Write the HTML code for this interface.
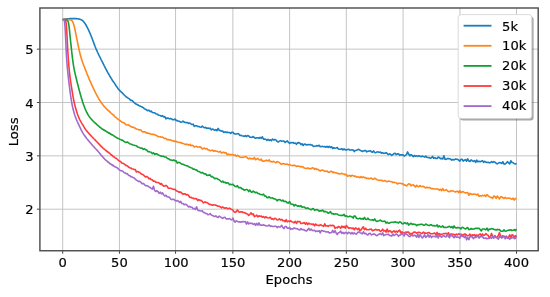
<!DOCTYPE html>
<html><head><meta charset="utf-8"><title>Loss</title>
<style>html,body{margin:0;padding:0;background:#fff}svg{display:block}</style></head>
<body>
<svg width="550" height="297" viewBox="0 0 550 297" font-family="'DejaVu Sans', 'Liberation Sans', sans-serif" font-size="13.1" fill="#000">
<rect width="550" height="297" fill="#fff"/>
<path d="M62.70 8.00V250.75M119.43 8.00V250.75M175.55 8.00V250.75M232.88 8.00V250.75M289.60 8.00V250.75M346.32 8.00V250.75M403.05 8.00V250.75M459.98 8.00V250.75M516.50 8.00V250.75M39.90 209.20H538.20M39.90 155.85H538.20M39.90 102.50H538.20M39.90 49.15H538.20" stroke="#bdbdbd" stroke-width="0.9" fill="none"/>
<clipPath id="c"><rect x="39.90" y="8.00" width="498.30" height="242.75"/></clipPath>
<g clip-path="url(#c)" fill="none" stroke-width="1.6" stroke-linejoin="round" stroke-linecap="butt">
<path d="M62.70 19.79 L62.98 19.72 L63.27 19.65 L63.55 19.57 L63.83 19.49 L64.12 19.42 L64.40 19.35 L64.69 19.28 L64.97 19.22 L65.25 19.16 L65.54 19.10 L65.82 19.05 L66.10 19.00 L66.39 18.95 L66.67 18.91 L66.95 18.88 L67.24 18.85 L67.52 18.82 L67.81 18.80 L68.09 18.77 L68.37 18.75 L68.66 18.72 L68.94 18.70 L69.22 18.68 L69.51 18.66 L69.79 18.65 L70.07 18.63 L70.36 18.62 L70.64 18.61 L70.93 18.60 L71.21 18.59 L71.49 18.59 L71.78 18.58 L72.06 18.58 L72.34 18.58 L72.63 18.58 L72.91 18.59 L73.19 18.59 L73.48 18.59 L73.76 18.59 L74.05 18.60 L74.33 18.60 L74.61 18.60 L74.90 18.61 L75.18 18.61 L75.46 18.62 L75.75 18.63 L76.03 18.64 L76.31 18.65 L76.60 18.67 L76.88 18.70 L77.16 18.72 L77.45 18.76 L77.73 18.80 L78.02 18.84 L78.30 18.89 L78.58 18.95 L78.87 19.01 L79.15 19.07 L79.43 19.14 L79.72 19.22 L80.00 19.31 L80.28 19.40 L80.57 19.51 L80.85 19.62 L81.14 19.75 L81.42 19.90 L81.70 20.06 L81.99 20.24 L82.27 20.43 L82.55 20.65 L82.84 20.90 L83.12 21.16 L83.40 21.45 L83.69 21.76 L83.97 22.09 L84.26 22.45 L84.54 22.83 L84.82 23.22 L85.11 23.64 L85.39 24.08 L85.67 24.54 L85.96 25.01 L86.24 25.50 L86.52 26.01 L86.81 26.54 L87.09 27.07 L87.38 27.63 L87.66 28.19 L87.94 28.77 L88.23 29.35 L88.51 29.95 L88.79 30.56 L89.08 31.18 L89.36 31.81 L89.64 32.45 L89.93 33.10 L90.21 33.77 L90.50 34.45 L90.78 35.14 L91.06 35.84 L91.35 36.56 L91.63 37.29 L91.91 38.02 L92.20 38.76 L92.48 39.52 L92.76 40.29 L93.05 41.06 L93.33 41.81 L93.62 42.57 L93.90 43.35 L94.18 44.10 L94.47 44.86 L94.75 45.57 L95.03 46.34 L95.32 47.02 L95.60 47.70 L95.88 48.42 L96.17 49.14 L96.45 49.72 L96.74 50.45 L97.02 51.04 L97.30 51.72 L97.59 52.38 L97.87 52.89 L98.15 53.49 L98.44 54.09 L98.72 54.66 L99.00 55.29 L99.29 55.87 L99.57 56.42 L99.85 56.86 L100.14 57.50 L100.42 58.16 L100.71 58.66 L100.99 59.31 L101.27 59.88 L101.56 60.36 L101.84 61.03 L102.12 61.70 L102.41 62.21 L102.69 62.70 L102.97 63.27 L103.26 63.74 L103.54 64.48 L103.83 64.92 L104.11 65.50 L104.39 66.12 L104.68 66.58 L104.96 67.16 L105.24 67.84 L105.53 68.19 L105.81 68.97 L106.09 69.37 L106.38 69.90 L106.66 70.38 L106.95 71.04 L107.23 71.48 L107.51 72.00 L107.80 72.38 L108.08 73.10 L108.36 73.50 L108.65 74.04 L108.93 74.66 L109.21 74.65 L109.50 75.49 L109.78 76.16 L110.07 76.25 L110.35 77.06 L110.63 77.33 L110.92 77.73 L111.20 78.41 L111.48 78.84 L111.77 79.32 L112.05 79.71 L112.33 80.39 L112.62 80.91 L112.90 81.05 L113.19 81.30 L113.47 81.80 L113.75 82.05 L114.89 83.89 L116.02 85.72 L117.16 87.18 L118.29 89.11 L119.43 90.15 L120.56 91.44 L121.69 92.36 L122.83 93.39 L123.96 94.74 L125.10 95.77 L126.23 97.00 L127.37 97.57 L128.50 98.38 L129.64 99.20 L130.77 100.41 L131.90 100.40 L133.04 101.43 L134.17 102.62 L135.31 103.53 L136.44 104.20 L137.58 104.76 L138.71 105.52 L139.85 106.02 L140.98 106.57 L142.12 106.98 L143.25 107.68 L144.38 108.79 L145.52 109.17 L146.65 110.06 L147.79 110.69 L148.92 110.12 L150.06 111.64 L151.19 111.05 L152.33 112.53 L153.46 112.72 L154.59 112.80 L155.73 113.71 L156.86 113.99 L158.00 114.71 L159.13 115.27 L160.27 115.58 L161.40 116.24 L162.54 115.67 L163.67 116.90 L164.81 116.48 L165.94 118.80 L167.07 118.01 L168.21 118.12 L169.34 118.84 L170.48 118.54 L171.61 119.05 L172.75 119.76 L173.88 119.73 L175.02 119.03 L176.15 120.38 L177.28 120.64 L178.42 121.26 L179.55 121.29 L180.69 122.23 L181.82 122.03 L182.96 121.11 L184.09 122.05 L185.23 122.54 L186.36 122.63 L187.50 122.57 L188.63 123.47 L189.76 123.09 L190.90 123.85 L192.03 124.57 L193.17 124.15 L194.30 126.35 L195.44 125.81 L196.57 125.71 L197.71 126.55 L198.84 126.48 L199.97 126.99 L201.11 127.27 L202.24 126.01 L203.38 127.20 L204.51 127.78 L205.65 127.38 L206.78 128.37 L207.92 128.07 L209.05 128.56 L210.19 128.18 L211.32 129.86 L212.45 129.04 L213.59 129.57 L214.72 130.40 L215.86 129.55 L216.99 130.70 L218.13 128.38 L219.26 130.47 L220.40 130.60 L221.53 131.12 L222.66 130.95 L223.80 132.52 L224.93 131.80 L226.07 132.38 L227.20 132.16 L228.34 132.55 L229.47 132.46 L230.61 133.40 L231.74 132.31 L232.88 132.30 L234.01 133.78 L235.14 133.91 L236.28 133.98 L237.41 133.72 L238.55 133.62 L239.68 135.38 L240.82 135.30 L241.95 135.74 L243.09 135.97 L244.22 136.45 L245.35 135.65 L246.49 136.61 L247.62 135.47 L248.76 135.97 L249.89 137.14 L251.03 137.33 L252.16 137.31 L253.30 136.48 L254.43 137.81 L255.56 138.32 L256.70 137.76 L257.83 137.73 L258.97 138.43 L260.10 137.44 L261.24 138.31 L262.37 136.77 L263.51 139.22 L264.64 138.96 L265.78 139.19 L266.91 140.44 L268.04 139.28 L269.18 140.52 L270.31 139.76 L271.45 140.67 L272.58 139.01 L273.72 140.04 L274.85 139.60 L275.99 140.04 L277.12 141.36 L278.25 142.02 L279.39 141.14 L280.52 140.64 L281.66 141.21 L282.79 141.00 L283.93 141.06 L285.06 142.50 L286.20 141.70 L287.33 140.95 L288.47 142.45 L289.60 143.37 L290.73 142.56 L291.87 142.83 L293.00 142.50 L294.14 143.35 L295.27 142.97 L296.41 144.36 L297.54 142.85 L298.68 142.61 L299.81 142.91 L300.94 144.58 L302.08 143.73 L303.21 145.46 L304.35 144.04 L305.48 144.38 L306.62 145.04 L307.75 144.45 L308.89 144.71 L310.02 144.42 L311.16 145.01 L312.29 145.10 L313.42 146.45 L314.56 146.16 L315.69 145.93 L316.83 145.65 L317.96 145.96 L319.10 145.27 L320.23 146.73 L321.37 146.52 L322.50 146.39 L323.63 146.80 L324.77 146.53 L325.90 147.26 L327.04 146.29 L328.17 147.40 L329.31 146.29 L330.44 147.51 L331.58 146.78 L332.71 148.54 L333.85 147.59 L334.98 148.25 L336.11 148.01 L337.25 147.59 L338.38 149.04 L339.52 149.26 L340.65 149.20 L341.79 148.61 L342.92 149.95 L344.06 148.94 L345.19 149.85 L346.32 149.89 L347.46 149.56 L348.59 149.25 L349.73 149.95 L350.86 149.98 L352.00 149.84 L353.13 150.09 L354.27 151.56 L355.40 150.42 L356.54 150.23 L357.67 149.76 L358.80 149.33 L359.94 150.25 L361.07 150.71 L362.21 151.44 L363.34 150.94 L364.48 150.65 L365.61 150.49 L366.75 151.87 L367.88 151.33 L369.01 151.11 L370.15 150.61 L371.28 151.68 L372.42 152.27 L373.55 150.88 L374.69 152.41 L375.82 152.70 L376.96 151.94 L378.09 151.92 L379.23 152.24 L380.36 152.08 L381.49 153.18 L382.63 152.80 L383.76 153.37 L384.90 153.23 L386.03 152.63 L387.17 153.50 L388.30 154.72 L389.44 153.86 L390.57 154.25 L391.70 155.48 L392.84 154.52 L393.97 153.56 L395.11 153.23 L396.24 154.66 L397.38 153.86 L398.51 153.85 L399.65 155.38 L400.78 154.80 L401.92 154.91 L403.05 154.88 L404.18 156.07 L405.32 155.40 L406.45 154.64 L407.59 151.94 L408.72 154.36 L409.86 155.80 L410.99 154.53 L412.13 155.38 L413.26 156.73 L414.39 155.51 L415.53 156.30 L416.66 155.86 L417.80 156.35 L418.93 155.63 L420.07 156.32 L421.20 156.76 L422.34 156.07 L423.47 156.61 L424.61 157.13 L425.74 156.17 L426.87 157.33 L428.01 157.57 L429.14 157.61 L430.28 158.30 L431.41 157.82 L432.55 156.39 L433.68 158.24 L434.82 157.76 L435.95 158.57 L437.09 158.36 L438.22 157.10 L439.35 157.59 L440.49 158.65 L441.62 158.36 L442.76 158.99 L443.89 155.86 L445.03 159.25 L446.16 159.33 L447.30 158.65 L448.43 158.57 L449.56 158.74 L450.70 159.26 L451.83 160.12 L452.97 159.38 L454.10 160.04 L455.24 158.96 L456.37 159.27 L457.51 159.24 L458.64 160.05 L459.78 161.10 L460.91 159.38 L462.04 159.29 L463.18 161.16 L464.31 160.19 L465.45 159.59 L466.58 161.17 L467.72 158.84 L468.85 161.04 L469.99 161.44 L471.12 159.92 L472.25 160.72 L473.39 161.43 L474.52 160.50 L475.66 162.47 L476.79 160.05 L477.93 161.88 L479.06 161.23 L480.20 161.77 L481.33 161.30 L482.47 160.66 L483.60 162.30 L484.73 161.30 L485.87 162.11 L487.00 162.45 L488.14 162.21 L489.27 162.81 L490.41 162.75 L491.54 161.64 L492.68 162.46 L493.81 161.65 L494.94 162.20 L496.08 163.26 L497.21 163.92 L498.35 163.16 L499.48 162.58 L500.62 162.81 L501.75 163.45 L502.89 161.76 L504.02 164.19 L505.16 163.92 L506.29 163.02 L507.42 161.65 L508.56 162.93 L509.69 163.95 L510.83 160.77 L511.96 162.55 L513.10 162.75 L514.23 163.72 L515.37 164.03 L516.50 163.44" stroke="#187ec2"/>
<path d="M62.70 19.54 L62.98 19.54 L63.27 19.54 L63.55 19.54 L63.83 19.54 L64.12 19.54 L64.40 19.54 L64.69 19.54 L64.97 19.54 L65.25 19.54 L65.54 19.54 L65.82 19.54 L66.10 19.54 L66.39 19.54 L66.67 19.54 L66.95 19.54 L67.24 19.54 L67.52 19.54 L67.81 19.54 L68.09 19.54 L68.37 19.55 L68.66 19.57 L68.94 19.60 L69.22 19.63 L69.51 19.68 L69.79 19.73 L70.07 19.79 L70.36 19.86 L70.64 19.94 L70.93 20.03 L71.21 20.14 L71.49 20.29 L71.78 20.49 L72.06 20.78 L72.34 21.16 L72.63 21.65 L72.91 22.26 L73.19 22.97 L73.48 23.80 L73.76 24.71 L74.05 25.72 L74.33 26.82 L74.61 28.00 L74.90 29.27 L75.18 30.60 L75.46 31.99 L75.75 33.42 L76.03 34.86 L76.31 36.31 L76.60 37.74 L76.88 39.15 L77.16 40.54 L77.45 41.92 L77.73 43.29 L78.02 44.65 L78.30 46.01 L78.58 47.35 L78.87 48.67 L79.15 49.96 L79.43 51.22 L79.72 52.43 L80.00 53.60 L80.28 54.72 L80.57 55.80 L80.85 56.83 L81.14 57.82 L81.42 58.78 L81.70 59.69 L81.99 60.57 L82.27 61.41 L82.55 62.23 L82.84 63.02 L83.12 63.79 L83.40 64.54 L83.69 65.27 L83.97 66.00 L84.26 66.73 L84.54 67.45 L84.82 68.17 L85.11 68.89 L85.39 69.61 L85.67 70.34 L85.96 71.06 L86.24 71.78 L86.52 72.51 L86.81 73.22 L87.09 73.94 L87.38 74.65 L87.66 75.35 L87.94 76.05 L88.23 76.74 L88.51 77.42 L88.79 78.09 L89.08 78.75 L89.36 79.41 L89.64 80.06 L89.93 80.71 L90.21 81.35 L90.50 81.98 L90.78 82.61 L91.06 83.24 L91.35 83.86 L91.63 84.48 L91.91 85.10 L92.20 85.72 L92.48 86.34 L92.76 86.94 L93.05 87.52 L93.33 88.16 L93.62 88.75 L93.90 89.32 L94.18 89.99 L94.47 90.52 L94.75 91.13 L95.03 91.69 L95.32 92.25 L95.60 92.85 L95.88 93.41 L96.17 93.94 L96.45 94.49 L96.74 95.08 L97.02 95.59 L97.30 96.17 L97.59 96.57 L97.87 97.20 L98.15 97.63 L98.44 98.05 L98.72 98.58 L99.00 99.12 L99.29 99.61 L99.57 100.07 L99.85 100.43 L100.14 100.91 L100.42 101.36 L100.71 101.61 L100.99 102.26 L101.27 102.65 L101.56 103.04 L101.84 103.39 L102.12 103.77 L102.41 104.19 L102.69 104.47 L102.97 104.85 L103.26 105.27 L103.54 105.80 L103.83 105.85 L104.11 106.34 L104.39 106.64 L104.68 106.91 L104.96 107.33 L105.24 107.60 L105.53 107.81 L105.81 108.15 L106.09 108.37 L106.38 108.79 L106.66 109.00 L106.95 109.37 L107.23 109.56 L107.51 109.77 L107.80 110.10 L108.08 110.51 L108.36 110.62 L108.65 110.84 L108.93 110.97 L109.21 111.38 L109.50 111.68 L109.78 112.03 L110.07 111.86 L110.35 112.51 L110.63 112.79 L110.92 112.91 L111.20 113.40 L111.48 113.24 L111.77 113.62 L112.05 113.83 L112.33 114.31 L112.62 114.49 L112.90 114.54 L113.19 114.79 L113.47 114.77 L113.75 115.27 L114.89 116.82 L116.02 117.52 L117.16 118.61 L118.29 119.27 L119.43 120.38 L120.56 121.05 L121.69 121.95 L122.83 122.39 L123.96 122.80 L125.10 123.86 L126.23 124.78 L127.37 125.06 L128.50 124.88 L129.64 125.76 L130.77 126.41 L131.90 127.12 L133.04 127.00 L134.17 127.72 L135.31 128.33 L136.44 128.95 L137.58 129.33 L138.71 129.78 L139.85 129.89 L140.98 130.05 L142.12 131.66 L143.25 131.88 L144.38 131.75 L145.52 132.06 L146.65 133.11 L147.79 133.11 L148.92 133.39 L150.06 133.78 L151.19 134.17 L152.33 134.38 L153.46 134.35 L154.59 134.79 L155.73 135.23 L156.86 135.74 L158.00 136.55 L159.13 136.82 L160.27 136.68 L161.40 137.28 L162.54 137.14 L163.67 137.95 L164.81 138.39 L165.94 138.57 L167.07 139.78 L168.21 139.51 L169.34 140.03 L170.48 139.73 L171.61 140.71 L172.75 140.64 L173.88 141.39 L175.02 141.15 L176.15 141.34 L177.28 142.05 L178.42 142.21 L179.55 142.47 L180.69 142.49 L181.82 143.27 L182.96 143.39 L184.09 143.88 L185.23 144.40 L186.36 144.17 L187.50 144.34 L188.63 145.17 L189.76 144.38 L190.90 145.70 L192.03 145.31 L193.17 145.76 L194.30 146.98 L195.44 146.51 L196.57 146.42 L197.71 147.11 L198.84 147.03 L199.97 146.78 L201.11 147.54 L202.24 148.87 L203.38 148.61 L204.51 148.04 L205.65 148.92 L206.78 148.46 L207.92 149.87 L209.05 150.05 L210.19 150.68 L211.32 150.49 L212.45 149.99 L213.59 151.26 L214.72 150.69 L215.86 151.11 L216.99 151.20 L218.13 151.93 L219.26 152.04 L220.40 151.30 L221.53 153.11 L222.66 152.41 L223.80 152.29 L224.93 153.02 L226.07 152.68 L227.20 154.88 L228.34 154.06 L229.47 154.70 L230.61 154.57 L231.74 154.65 L232.88 154.59 L234.01 155.45 L235.14 154.85 L236.28 156.23 L237.41 155.24 L238.55 156.03 L239.68 156.97 L240.82 157.19 L241.95 157.41 L243.09 157.24 L244.22 156.91 L245.35 156.53 L246.49 156.99 L247.62 158.21 L248.76 158.88 L249.89 158.11 L251.03 158.85 L252.16 158.44 L253.30 158.88 L254.43 157.49 L255.56 159.77 L256.70 158.97 L257.83 158.40 L258.97 159.70 L260.10 160.07 L261.24 159.04 L262.37 161.10 L263.51 161.09 L264.64 161.03 L265.78 160.42 L266.91 160.42 L268.04 161.05 L269.18 159.82 L270.31 161.59 L271.45 161.56 L272.58 161.90 L273.72 161.32 L274.85 162.12 L275.99 162.70 L277.12 161.67 L278.25 162.06 L279.39 162.40 L280.52 163.74 L281.66 164.25 L282.79 163.62 L283.93 163.83 L285.06 164.12 L286.20 164.21 L287.33 163.97 L288.47 165.02 L289.60 164.59 L290.73 165.12 L291.87 165.58 L293.00 165.48 L294.14 165.17 L295.27 165.61 L296.41 166.37 L297.54 166.01 L298.68 166.32 L299.81 166.38 L300.94 167.05 L302.08 166.50 L303.21 167.03 L304.35 168.03 L305.48 168.31 L306.62 168.59 L307.75 167.85 L308.89 168.63 L310.02 168.66 L311.16 168.72 L312.29 167.81 L313.42 167.95 L314.56 169.36 L315.69 168.46 L316.83 169.42 L317.96 169.28 L319.10 170.26 L320.23 170.97 L321.37 170.26 L322.50 170.03 L323.63 170.67 L324.77 171.14 L325.90 171.19 L327.04 170.96 L328.17 172.27 L329.31 172.18 L330.44 171.58 L331.58 171.30 L332.71 172.40 L333.85 172.12 L334.98 172.75 L336.11 172.79 L337.25 173.42 L338.38 173.52 L339.52 174.11 L340.65 173.72 L341.79 173.36 L342.92 174.04 L344.06 173.97 L345.19 174.85 L346.32 174.30 L347.46 176.28 L348.59 175.83 L349.73 175.42 L350.86 176.41 L352.00 175.29 L353.13 175.67 L354.27 176.47 L355.40 176.10 L356.54 177.16 L357.67 177.02 L358.80 176.91 L359.94 177.77 L361.07 176.49 L362.21 177.62 L363.34 176.88 L364.48 177.71 L365.61 177.64 L366.75 178.50 L367.88 178.36 L369.01 178.61 L370.15 178.43 L371.28 177.98 L372.42 179.25 L373.55 179.21 L374.69 178.04 L375.82 179.02 L376.96 179.75 L378.09 180.09 L379.23 180.39 L380.36 180.24 L381.49 180.30 L382.63 181.01 L383.76 180.98 L384.90 180.57 L386.03 181.19 L387.17 181.69 L388.30 181.15 L389.44 181.33 L390.57 181.57 L391.70 181.73 L392.84 182.51 L393.97 182.36 L395.11 182.48 L396.24 182.77 L397.38 184.02 L398.51 183.21 L399.65 183.19 L400.78 183.28 L401.92 183.92 L403.05 183.90 L404.18 185.15 L405.32 185.15 L406.45 185.97 L407.59 184.78 L408.72 183.89 L409.86 184.00 L410.99 185.84 L412.13 184.99 L413.26 184.81 L414.39 185.90 L415.53 187.04 L416.66 185.25 L417.80 186.46 L418.93 186.65 L420.07 185.60 L421.20 186.50 L422.34 186.45 L423.47 186.18 L424.61 187.38 L425.74 188.03 L426.87 187.17 L428.01 187.80 L429.14 187.53 L430.28 187.90 L431.41 188.75 L432.55 188.45 L433.68 188.83 L434.82 188.93 L435.95 188.98 L437.09 188.91 L438.22 189.16 L439.35 190.21 L440.49 189.23 L441.62 190.63 L442.76 188.61 L443.89 190.55 L445.03 190.29 L446.16 189.61 L447.30 190.69 L448.43 191.50 L449.56 191.75 L450.70 190.88 L451.83 190.96 L452.97 190.87 L454.10 191.36 L455.24 191.98 L456.37 191.56 L457.51 191.13 L458.64 192.64 L459.78 190.76 L460.91 192.73 L462.04 191.87 L463.18 191.63 L464.31 192.38 L465.45 192.91 L466.58 192.81 L467.72 192.59 L468.85 195.19 L469.99 193.44 L471.12 194.13 L472.25 194.46 L473.39 194.12 L474.52 194.23 L475.66 194.19 L476.79 195.02 L477.93 194.11 L479.06 196.26 L480.20 195.71 L481.33 196.02 L482.47 195.35 L483.60 195.88 L484.73 195.15 L485.87 196.35 L487.00 194.64 L488.14 195.69 L489.27 196.61 L490.41 197.49 L491.54 197.32 L492.68 198.33 L493.81 196.06 L494.94 196.49 L496.08 198.45 L497.21 196.03 L498.35 197.53 L499.48 198.88 L500.62 196.89 L501.75 196.86 L502.89 197.79 L504.02 198.47 L505.16 197.23 L506.29 198.43 L507.42 198.22 L508.56 198.00 L509.69 198.20 L510.83 198.77 L511.96 199.23 L513.10 198.16 L514.23 200.14 L515.37 198.58 L516.50 198.69" stroke="#ff861c"/>
<path d="M62.70 19.54 L62.98 19.54 L63.27 19.54 L63.55 19.54 L63.83 19.54 L64.12 19.54 L64.40 19.54 L64.69 19.54 L64.97 19.54 L65.25 19.54 L65.54 19.56 L65.82 19.60 L66.10 19.66 L66.39 19.76 L66.67 19.87 L66.95 20.02 L67.24 20.21 L67.52 20.47 L67.81 20.87 L68.09 21.52 L68.37 22.51 L68.66 23.88 L68.94 25.62 L69.22 27.78 L69.51 30.34 L69.79 33.21 L70.07 36.17 L70.36 39.02 L70.64 41.72 L70.93 44.34 L71.21 46.96 L71.49 49.61 L71.78 52.23 L72.06 54.75 L72.34 57.15 L72.63 59.39 L72.91 61.50 L73.19 63.46 L73.48 65.29 L73.76 66.99 L74.05 68.56 L74.33 70.03 L74.61 71.40 L74.90 72.70 L75.18 73.94 L75.46 75.14 L75.75 76.32 L76.03 77.48 L76.31 78.64 L76.60 79.80 L76.88 80.96 L77.16 82.11 L77.45 83.25 L77.73 84.38 L78.02 85.51 L78.30 86.62 L78.58 87.71 L78.87 88.80 L79.15 89.86 L79.43 90.92 L79.72 91.96 L80.00 92.99 L80.28 94.01 L80.57 95.01 L80.85 96.01 L81.14 96.99 L81.42 97.96 L81.70 98.92 L81.99 99.85 L82.27 100.77 L82.55 101.67 L82.84 102.55 L83.12 103.40 L83.40 104.23 L83.69 105.04 L83.97 105.82 L84.26 106.58 L84.54 107.32 L84.82 108.03 L85.11 108.73 L85.39 109.40 L85.67 110.05 L85.96 110.68 L86.24 111.28 L86.52 111.87 L86.81 112.44 L87.09 112.99 L87.38 113.51 L87.66 114.02 L87.94 114.51 L88.23 114.97 L88.51 115.42 L88.79 115.86 L89.08 116.27 L89.36 116.67 L89.64 117.06 L89.93 117.44 L90.21 117.80 L90.50 118.15 L90.78 118.49 L91.06 118.83 L91.35 119.15 L91.63 119.47 L91.91 119.78 L92.20 120.09 L92.48 120.39 L92.76 120.70 L93.05 120.98 L93.33 121.26 L93.62 121.52 L93.90 121.79 L94.18 122.07 L94.47 122.34 L94.75 122.64 L95.03 122.85 L95.32 123.11 L95.60 123.37 L95.88 123.68 L96.17 123.92 L96.45 124.19 L96.74 124.49 L97.02 124.70 L97.30 125.02 L97.59 125.29 L97.87 125.42 L98.15 125.67 L98.44 125.90 L98.72 126.22 L99.00 126.44 L99.29 126.62 L99.57 126.94 L99.85 127.29 L100.14 127.22 L100.42 127.51 L100.71 127.73 L100.99 128.04 L101.27 128.32 L101.56 128.46 L101.84 128.64 L102.12 128.99 L102.41 129.10 L102.69 129.20 L102.97 129.30 L103.26 129.56 L103.54 129.85 L103.83 130.11 L104.11 129.94 L104.39 130.32 L104.68 130.42 L104.96 130.67 L105.24 130.99 L105.53 130.75 L105.81 131.09 L106.09 131.18 L106.38 131.59 L106.66 131.66 L106.95 131.64 L107.23 132.03 L107.51 132.24 L107.80 132.46 L108.08 132.65 L108.36 132.51 L108.65 132.79 L108.93 133.21 L109.21 132.88 L109.50 133.08 L109.78 133.26 L110.07 133.88 L110.35 133.74 L110.63 133.71 L110.92 134.25 L111.20 134.38 L111.48 134.45 L111.77 134.91 L112.05 134.70 L112.33 134.74 L112.62 134.96 L112.90 134.98 L113.19 135.39 L113.47 135.59 L113.75 135.78 L114.89 136.57 L116.02 137.33 L117.16 137.94 L118.29 138.44 L119.43 139.16 L120.56 139.59 L121.69 140.14 L122.83 140.40 L123.96 141.32 L125.10 142.25 L126.23 142.41 L127.37 142.01 L128.50 142.81 L129.64 143.64 L130.77 144.09 L131.90 144.46 L133.04 145.06 L134.17 145.29 L135.31 145.58 L136.44 145.83 L137.58 146.91 L138.71 147.36 L139.85 147.84 L140.98 148.16 L142.12 148.17 L143.25 149.42 L144.38 148.54 L145.52 149.74 L146.65 149.91 L147.79 151.64 L148.92 151.51 L150.06 152.03 L151.19 152.18 L152.33 153.64 L153.46 152.83 L154.59 154.33 L155.73 153.74 L156.86 153.84 L158.00 154.79 L159.13 155.27 L160.27 155.69 L161.40 156.14 L162.54 156.32 L163.67 156.42 L164.81 156.97 L165.94 156.97 L167.07 158.10 L168.21 158.84 L169.34 159.25 L170.48 160.07 L171.61 160.08 L172.75 160.62 L173.88 159.87 L175.02 160.95 L176.15 160.75 L177.28 163.08 L178.42 162.41 L179.55 162.50 L180.69 163.31 L181.82 164.17 L182.96 164.23 L184.09 164.82 L185.23 165.28 L186.36 165.69 L187.50 165.82 L188.63 166.68 L189.76 167.14 L190.90 167.78 L192.03 168.05 L193.17 169.17 L194.30 169.01 L195.44 170.00 L196.57 169.90 L197.71 171.18 L198.84 171.42 L199.97 172.00 L201.11 172.96 L202.24 172.40 L203.38 173.27 L204.51 173.95 L205.65 173.82 L206.78 175.14 L207.92 175.46 L209.05 174.89 L210.19 175.11 L211.32 176.82 L212.45 176.46 L213.59 177.68 L214.72 178.64 L215.86 178.39 L216.99 178.44 L218.13 179.43 L219.26 179.71 L220.40 180.97 L221.53 182.04 L222.66 181.13 L223.80 182.46 L224.93 182.16 L226.07 183.13 L227.20 182.90 L228.34 182.94 L229.47 184.74 L230.61 184.34 L231.74 184.75 L232.88 184.35 L234.01 185.46 L235.14 186.35 L236.28 186.62 L237.41 185.71 L238.55 187.58 L239.68 187.46 L240.82 187.62 L241.95 188.89 L243.09 189.09 L244.22 190.10 L245.35 189.89 L246.49 189.39 L247.62 190.01 L248.76 191.55 L249.89 190.06 L251.03 191.96 L252.16 192.12 L253.30 191.05 L254.43 192.05 L255.56 192.72 L256.70 192.20 L257.83 193.44 L258.97 193.57 L260.10 194.45 L261.24 194.57 L262.37 194.91 L263.51 194.19 L264.64 195.97 L265.78 196.10 L266.91 197.60 L268.04 197.71 L269.18 196.72 L270.31 197.87 L271.45 198.06 L272.58 197.88 L273.72 198.78 L274.85 198.90 L275.99 199.48 L277.12 200.83 L278.25 199.67 L279.39 199.51 L280.52 200.03 L281.66 201.01 L282.79 200.07 L283.93 201.49 L285.06 201.16 L286.20 201.67 L287.33 202.88 L288.47 203.08 L289.60 201.56 L290.73 203.96 L291.87 204.30 L293.00 204.33 L294.14 205.97 L295.27 204.52 L296.41 205.44 L297.54 206.19 L298.68 205.89 L299.81 206.52 L300.94 205.66 L302.08 207.32 L303.21 206.92 L304.35 207.05 L305.48 208.04 L306.62 208.56 L307.75 207.88 L308.89 208.63 L310.02 209.23 L311.16 209.80 L312.29 208.85 L313.42 208.59 L314.56 210.32 L315.69 209.70 L316.83 209.62 L317.96 209.93 L319.10 211.14 L320.23 210.72 L321.37 210.88 L322.50 210.01 L323.63 211.65 L324.77 211.38 L325.90 211.76 L327.04 212.09 L328.17 213.31 L329.31 212.77 L330.44 211.63 L331.58 213.62 L332.71 213.47 L333.85 214.31 L334.98 213.89 L336.11 214.06 L337.25 214.07 L338.38 214.94 L339.52 215.17 L340.65 215.46 L341.79 215.16 L342.92 215.42 L344.06 214.36 L345.19 216.32 L346.32 215.71 L347.46 216.66 L348.59 216.81 L349.73 216.05 L350.86 216.64 L352.00 216.76 L353.13 218.09 L354.27 215.86 L355.40 216.35 L356.54 218.25 L357.67 218.81 L358.80 218.60 L359.94 218.18 L361.07 219.08 L362.21 218.50 L363.34 219.24 L364.48 217.34 L365.61 219.30 L366.75 219.60 L367.88 218.22 L369.01 219.41 L370.15 219.77 L371.28 219.94 L372.42 219.71 L373.55 220.48 L374.69 218.94 L375.82 220.83 L376.96 221.47 L378.09 220.96 L379.23 220.79 L380.36 220.02 L381.49 221.01 L382.63 221.49 L383.76 221.32 L384.90 221.14 L386.03 223.07 L387.17 222.02 L388.30 223.25 L389.44 223.10 L390.57 222.57 L391.70 222.30 L392.84 222.30 L393.97 222.35 L395.11 221.70 L396.24 222.36 L397.38 222.33 L398.51 223.06 L399.65 221.71 L400.78 222.23 L401.92 223.54 L403.05 223.89 L404.18 222.87 L405.32 222.82 L406.45 223.77 L407.59 222.94 L408.72 225.06 L409.86 223.96 L410.99 223.30 L412.13 224.43 L413.26 224.05 L414.39 224.26 L415.53 224.51 L416.66 225.66 L417.80 224.74 L418.93 224.51 L420.07 224.59 L421.20 224.31 L422.34 224.29 L423.47 225.23 L424.61 225.23 L425.74 224.06 L426.87 224.68 L428.01 225.34 L429.14 225.59 L430.28 224.83 L431.41 224.92 L432.55 225.78 L433.68 225.51 L434.82 225.87 L435.95 226.01 L437.09 224.83 L438.22 227.03 L439.35 225.75 L440.49 227.05 L441.62 226.90 L442.76 225.95 L443.89 227.50 L445.03 227.33 L446.16 227.56 L447.30 227.28 L448.43 226.75 L449.56 226.25 L450.70 227.57 L451.83 226.59 L452.97 228.13 L454.10 225.92 L455.24 227.77 L456.37 227.88 L457.51 227.45 L458.64 227.66 L459.78 227.92 L460.91 229.05 L462.04 227.38 L463.18 227.55 L464.31 228.39 L465.45 229.01 L466.58 228.09 L467.72 227.57 L468.85 229.63 L469.99 229.27 L471.12 228.50 L472.25 229.20 L473.39 228.95 L474.52 228.85 L475.66 228.30 L476.79 228.36 L477.93 228.28 L479.06 228.40 L480.20 229.54 L481.33 230.86 L482.47 229.01 L483.60 228.97 L484.73 229.03 L485.87 229.88 L487.00 228.11 L488.14 230.71 L489.27 229.00 L490.41 229.19 L491.54 228.58 L492.68 228.74 L493.81 229.44 L494.94 229.60 L496.08 230.09 L497.21 229.39 L498.35 229.71 L499.48 229.46 L500.62 230.90 L501.75 231.22 L502.89 231.19 L504.02 229.82 L505.16 231.35 L506.29 231.02 L507.42 230.57 L508.56 230.15 L509.69 230.16 L510.83 229.71 L511.96 230.58 L513.10 230.18 L514.23 229.59 L515.37 230.75 L516.50 228.92" stroke="#12a034"/>
<path d="M62.70 19.54 L62.98 19.54 L63.27 19.54 L63.55 19.54 L63.83 19.54 L64.12 19.54 L64.40 19.55 L64.69 19.58 L64.97 19.72 L65.25 20.02 L65.54 20.52 L65.82 21.39 L66.10 22.98 L66.39 25.70 L66.67 29.74 L66.95 34.87 L67.24 40.44 L67.52 45.87 L67.81 50.89 L68.09 55.48 L68.37 59.64 L68.66 63.38 L68.94 66.74 L69.22 69.78 L69.51 72.54 L69.79 75.07 L70.07 77.40 L70.36 79.56 L70.64 81.58 L70.93 83.50 L71.21 85.35 L71.49 87.16 L71.78 88.95 L72.06 90.71 L72.34 92.45 L72.63 94.15 L72.91 95.80 L73.19 97.39 L73.48 98.92 L73.76 100.36 L74.05 101.73 L74.33 103.01 L74.61 104.22 L74.90 105.36 L75.18 106.44 L75.46 107.49 L75.75 108.50 L76.03 109.48 L76.31 110.44 L76.60 111.38 L76.88 112.29 L77.16 113.17 L77.45 114.02 L77.73 114.83 L78.02 115.59 L78.30 116.32 L78.58 117.01 L78.87 117.67 L79.15 118.29 L79.43 118.89 L79.72 119.46 L80.00 120.02 L80.28 120.55 L80.57 121.08 L80.85 121.59 L81.14 122.09 L81.42 122.58 L81.70 123.07 L81.99 123.55 L82.27 124.03 L82.55 124.51 L82.84 124.99 L83.12 125.47 L83.40 125.94 L83.69 126.42 L83.97 126.89 L84.26 127.35 L84.54 127.80 L84.82 128.25 L85.11 128.68 L85.39 129.10 L85.67 129.51 L85.96 129.91 L86.24 130.30 L86.52 130.67 L86.81 131.03 L87.09 131.39 L87.38 131.73 L87.66 132.07 L87.94 132.41 L88.23 132.73 L88.51 133.06 L88.79 133.38 L89.08 133.69 L89.36 134.00 L89.64 134.31 L89.93 134.62 L90.21 134.93 L90.50 135.23 L90.78 135.53 L91.06 135.83 L91.35 136.13 L91.63 136.42 L91.91 136.72 L92.20 137.02 L92.48 137.28 L92.76 137.59 L93.05 137.87 L93.33 138.13 L93.62 138.45 L93.90 138.73 L94.18 138.99 L94.47 139.29 L94.75 139.58 L95.03 139.91 L95.32 140.20 L95.60 140.44 L95.88 140.77 L96.17 141.02 L96.45 141.32 L96.74 141.63 L97.02 141.92 L97.30 142.24 L97.59 142.50 L97.87 142.98 L98.15 143.21 L98.44 143.46 L98.72 143.68 L99.00 144.19 L99.29 144.42 L99.57 144.64 L99.85 144.90 L100.14 145.32 L100.42 145.74 L100.71 145.85 L100.99 146.10 L101.27 146.40 L101.56 146.68 L101.84 146.94 L102.12 147.33 L102.41 147.48 L102.69 147.72 L102.97 148.05 L103.26 148.39 L103.54 148.62 L103.83 148.73 L104.11 149.11 L104.39 149.15 L104.68 149.49 L104.96 149.78 L105.24 149.88 L105.53 150.21 L105.81 150.18 L106.09 150.48 L106.38 150.97 L106.66 151.15 L106.95 151.58 L107.23 151.44 L107.51 151.70 L107.80 151.95 L108.08 152.40 L108.36 152.20 L108.65 152.46 L108.93 152.92 L109.21 153.17 L109.50 153.37 L109.78 153.40 L110.07 153.69 L110.35 153.98 L110.63 154.23 L110.92 154.63 L111.20 154.73 L111.48 155.15 L111.77 154.91 L112.05 155.31 L112.33 155.53 L112.62 155.83 L112.90 156.15 L113.19 156.58 L113.47 156.58 L113.75 156.74 L114.89 157.60 L116.02 158.20 L117.16 159.03 L118.29 160.29 L119.43 161.09 L120.56 161.43 L121.69 163.03 L122.83 163.31 L123.96 163.77 L125.10 164.69 L126.23 165.58 L127.37 165.94 L128.50 167.01 L129.64 167.75 L130.77 168.02 L131.90 168.76 L133.04 169.10 L134.17 169.46 L135.31 169.61 L136.44 172.04 L137.58 171.53 L138.71 172.04 L139.85 172.54 L140.98 173.69 L142.12 174.34 L143.25 174.69 L144.38 175.90 L145.52 177.01 L146.65 176.50 L147.79 177.15 L148.92 178.75 L150.06 178.20 L151.19 179.82 L152.33 179.75 L153.46 181.19 L154.59 181.07 L155.73 182.01 L156.86 182.43 L158.00 182.52 L159.13 182.89 L160.27 184.25 L161.40 183.47 L162.54 185.24 L163.67 186.15 L164.81 185.99 L165.94 185.33 L167.07 186.06 L168.21 188.11 L169.34 188.26 L170.48 188.22 L171.61 188.61 L172.75 189.17 L173.88 189.34 L175.02 189.30 L176.15 190.83 L177.28 191.15 L178.42 191.85 L179.55 192.13 L180.69 192.15 L181.82 193.09 L182.96 194.32 L184.09 193.73 L185.23 193.84 L186.36 195.02 L187.50 194.54 L188.63 195.47 L189.76 197.33 L190.90 197.21 L192.03 198.04 L193.17 198.13 L194.30 198.76 L195.44 198.59 L196.57 198.77 L197.71 200.68 L198.84 199.52 L199.97 200.45 L201.11 200.22 L202.24 201.35 L203.38 202.90 L204.51 202.05 L205.65 202.15 L206.78 202.51 L207.92 203.16 L209.05 204.11 L210.19 204.39 L211.32 204.69 L212.45 205.17 L213.59 204.88 L214.72 205.02 L215.86 205.10 L216.99 205.69 L218.13 206.32 L219.26 206.20 L220.40 206.89 L221.53 207.81 L222.66 206.98 L223.80 207.86 L224.93 208.18 L226.07 207.70 L227.20 208.42 L228.34 208.64 L229.47 208.14 L230.61 208.92 L231.74 209.40 L232.88 210.15 L234.01 211.75 L235.14 212.32 L236.28 211.68 L237.41 209.94 L238.55 211.76 L239.68 212.21 L240.82 211.85 L241.95 211.75 L243.09 212.49 L244.22 212.62 L245.35 213.01 L246.49 213.72 L247.62 214.08 L248.76 215.40 L249.89 214.25 L251.03 212.87 L252.16 214.50 L253.30 213.89 L254.43 216.65 L255.56 216.11 L256.70 215.13 L257.83 216.83 L258.97 215.89 L260.10 216.21 L261.24 216.12 L262.37 217.21 L263.51 216.49 L264.64 217.86 L265.78 216.78 L266.91 217.52 L268.04 217.99 L269.18 217.81 L270.31 217.30 L271.45 219.03 L272.58 218.66 L273.72 219.56 L274.85 218.31 L275.99 218.66 L277.12 219.93 L278.25 219.69 L279.39 218.86 L280.52 219.89 L281.66 219.41 L282.79 220.66 L283.93 220.45 L285.06 221.75 L286.20 219.67 L287.33 221.79 L288.47 221.07 L289.60 221.57 L290.73 220.77 L291.87 221.81 L293.00 222.10 L294.14 222.90 L295.27 221.32 L296.41 223.50 L297.54 221.38 L298.68 221.72 L299.81 221.48 L300.94 223.54 L302.08 223.55 L303.21 223.07 L304.35 222.57 L305.48 224.21 L306.62 222.78 L307.75 224.57 L308.89 223.12 L310.02 224.03 L311.16 224.06 L312.29 224.39 L313.42 224.00 L314.56 225.86 L315.69 224.03 L316.83 225.30 L317.96 225.19 L319.10 225.73 L320.23 224.83 L321.37 225.14 L322.50 225.82 L323.63 226.35 L324.77 223.84 L325.90 226.09 L327.04 225.63 L328.17 226.37 L329.31 225.49 L330.44 225.38 L331.58 225.71 L332.71 225.39 L333.85 225.45 L334.98 228.33 L336.11 227.36 L337.25 227.87 L338.38 226.60 L339.52 226.96 L340.65 228.14 L341.79 226.17 L342.92 227.33 L344.06 226.34 L345.19 228.09 L346.32 225.49 L347.46 226.86 L348.59 228.16 L349.73 227.73 L350.86 228.09 L352.00 228.46 L353.13 228.01 L354.27 229.81 L355.40 227.92 L356.54 228.47 L357.67 229.58 L358.80 228.21 L359.94 230.88 L361.07 229.81 L362.21 228.14 L363.34 226.86 L364.48 229.75 L365.61 228.25 L366.75 229.69 L367.88 229.69 L369.01 229.62 L370.15 229.24 L371.28 229.16 L372.42 230.69 L373.55 230.38 L374.69 229.70 L375.82 229.38 L376.96 230.15 L378.09 229.76 L379.23 229.87 L380.36 231.43 L381.49 230.89 L382.63 229.15 L383.76 231.11 L384.90 230.41 L386.03 232.10 L387.17 229.09 L388.30 231.85 L389.44 230.79 L390.57 230.99 L391.70 232.71 L392.84 231.71 L393.97 230.74 L395.11 232.21 L396.24 231.01 L397.38 232.08 L398.51 230.91 L399.65 230.14 L400.78 232.89 L401.92 231.82 L403.05 232.71 L404.18 232.99 L405.32 232.26 L406.45 232.16 L407.59 232.02 L408.72 232.10 L409.86 234.30 L410.99 233.23 L412.13 234.34 L413.26 232.41 L414.39 232.02 L415.53 232.35 L416.66 233.24 L417.80 232.56 L418.93 232.25 L420.07 232.51 L421.20 233.47 L422.34 233.36 L423.47 232.05 L424.61 233.16 L425.74 233.05 L426.87 233.21 L428.01 232.79 L429.14 232.55 L430.28 233.64 L431.41 233.71 L432.55 233.71 L433.68 233.39 L434.82 233.07 L435.95 234.79 L437.09 232.35 L438.22 234.59 L439.35 233.65 L440.49 234.71 L441.62 234.27 L442.76 233.95 L443.89 233.46 L445.03 233.75 L446.16 233.30 L447.30 234.32 L448.43 232.74 L449.56 235.51 L450.70 233.98 L451.83 233.96 L452.97 234.67 L454.10 234.36 L455.24 235.11 L456.37 234.08 L457.51 234.82 L458.64 233.86 L459.78 234.24 L460.91 234.25 L462.04 234.55 L463.18 235.44 L464.31 234.13 L465.45 234.07 L466.58 235.13 L467.72 235.83 L468.85 235.50 L469.99 234.05 L471.12 236.48 L472.25 234.77 L473.39 235.43 L474.52 234.52 L475.66 236.51 L476.79 234.88 L477.93 236.24 L479.06 234.58 L480.20 233.92 L481.33 235.82 L482.47 233.84 L483.60 235.52 L484.73 234.97 L485.87 233.61 L487.00 234.82 L488.14 235.31 L489.27 237.91 L490.41 236.59 L491.54 233.43 L492.68 236.64 L493.81 236.88 L494.94 235.61 L496.08 237.38 L497.21 237.18 L498.35 235.56 L499.48 232.52 L500.62 236.96 L501.75 236.21 L502.89 235.85 L504.02 236.99 L505.16 237.21 L506.29 236.09 L507.42 237.49 L508.56 237.23 L509.69 234.84 L510.83 238.37 L511.96 234.82 L513.10 235.33 L514.23 237.24 L515.37 235.63 L516.50 236.54" stroke="#ff3a3a"/>
<path d="M62.70 19.54 L62.98 19.54 L63.27 19.54 L63.55 19.56 L63.83 19.66 L64.12 19.99 L64.40 20.95 L64.69 22.92 L64.97 26.00 L65.25 30.40 L65.54 36.15 L65.82 42.58 L66.10 48.87 L66.39 54.52 L66.67 59.29 L66.95 63.20 L67.24 66.51 L67.52 69.49 L67.81 72.31 L68.09 75.02 L68.37 77.64 L68.66 80.17 L68.94 82.60 L69.22 84.96 L69.51 87.23 L69.79 89.42 L70.07 91.54 L70.36 93.61 L70.64 95.62 L70.93 97.56 L71.21 99.43 L71.49 101.19 L71.78 102.83 L72.06 104.35 L72.34 105.75 L72.63 107.05 L72.91 108.27 L73.19 109.44 L73.48 110.55 L73.76 111.61 L74.05 112.63 L74.33 113.60 L74.61 114.53 L74.90 115.42 L75.18 116.26 L75.46 117.06 L75.75 117.83 L76.03 118.56 L76.31 119.27 L76.60 119.95 L76.88 120.61 L77.16 121.26 L77.45 121.89 L77.73 122.51 L78.02 123.12 L78.30 123.72 L78.58 124.32 L78.87 124.93 L79.15 125.53 L79.43 126.14 L79.72 126.76 L80.00 127.37 L80.28 127.99 L80.57 128.60 L80.85 129.20 L81.14 129.79 L81.42 130.36 L81.70 130.92 L81.99 131.45 L82.27 131.97 L82.55 132.47 L82.84 132.95 L83.12 133.41 L83.40 133.86 L83.69 134.29 L83.97 134.72 L84.26 135.13 L84.54 135.53 L84.82 135.92 L85.11 136.31 L85.39 136.69 L85.67 137.06 L85.96 137.43 L86.24 137.80 L86.52 138.17 L86.81 138.53 L87.09 138.89 L87.38 139.24 L87.66 139.59 L87.94 139.94 L88.23 140.29 L88.51 140.64 L88.79 140.98 L89.08 141.32 L89.36 141.66 L89.64 141.99 L89.93 142.33 L90.21 142.66 L90.50 142.99 L90.78 143.32 L91.06 143.64 L91.35 143.97 L91.63 144.29 L91.91 144.61 L92.20 144.92 L92.48 145.27 L92.76 145.59 L93.05 145.86 L93.33 146.25 L93.62 146.52 L93.90 146.89 L94.18 147.13 L94.47 147.48 L94.75 147.75 L95.03 148.09 L95.32 148.38 L95.60 148.74 L95.88 149.00 L96.17 149.30 L96.45 149.61 L96.74 149.88 L97.02 150.19 L97.30 150.41 L97.59 150.94 L97.87 151.16 L98.15 151.51 L98.44 151.79 L98.72 152.06 L99.00 152.30 L99.29 152.70 L99.57 153.22 L99.85 153.56 L100.14 153.91 L100.42 154.18 L100.71 154.65 L100.99 154.89 L101.27 155.36 L101.56 155.59 L101.84 155.90 L102.12 156.05 L102.41 156.58 L102.69 156.94 L102.97 157.17 L103.26 157.64 L103.54 157.73 L103.83 158.18 L104.11 158.41 L104.39 158.80 L104.68 159.05 L104.96 159.38 L105.24 159.68 L105.53 159.86 L105.81 160.03 L106.09 160.58 L106.38 160.63 L106.66 160.74 L106.95 161.16 L107.23 161.19 L107.51 161.48 L107.80 161.97 L108.08 162.13 L108.36 162.05 L108.65 162.30 L108.93 162.58 L109.21 162.89 L109.50 163.51 L109.78 163.34 L110.07 163.83 L110.35 163.77 L110.63 163.95 L110.92 164.17 L111.20 164.25 L111.48 164.52 L111.77 164.96 L112.05 165.01 L112.33 164.94 L112.62 164.91 L112.90 165.72 L113.19 165.60 L113.47 165.65 L113.75 165.95 L114.89 166.83 L116.02 167.22 L117.16 167.77 L118.29 168.85 L119.43 169.81 L120.56 170.66 L121.69 170.74 L122.83 171.23 L123.96 172.38 L125.10 172.98 L126.23 173.74 L127.37 173.63 L128.50 175.36 L129.64 175.43 L130.77 176.63 L131.90 176.81 L133.04 177.57 L134.17 177.96 L135.31 179.22 L136.44 180.12 L137.58 180.72 L138.71 181.58 L139.85 181.31 L140.98 182.39 L142.12 183.83 L143.25 183.45 L144.38 184.43 L145.52 185.70 L146.65 185.53 L147.79 185.98 L148.92 186.90 L150.06 187.47 L151.19 188.43 L152.33 189.08 L153.46 186.30 L154.59 190.40 L155.73 191.54 L156.86 190.63 L158.00 191.54 L159.13 193.40 L160.27 192.19 L161.40 193.90 L162.54 192.82 L163.67 194.98 L164.81 196.01 L165.94 195.23 L167.07 196.75 L168.21 196.97 L169.34 197.12 L170.48 198.81 L171.61 199.59 L172.75 199.34 L173.88 199.24 L175.02 200.46 L176.15 201.10 L177.28 200.51 L178.42 201.19 L179.55 202.31 L180.69 201.47 L181.82 203.53 L182.96 203.54 L184.09 204.73 L185.23 204.28 L186.36 204.45 L187.50 205.70 L188.63 206.99 L189.76 206.40 L190.90 207.18 L192.03 207.33 L193.17 208.86 L194.30 208.36 L195.44 209.52 L196.57 206.85 L197.71 209.96 L198.84 210.61 L199.97 210.84 L201.11 210.95 L202.24 210.77 L203.38 212.37 L204.51 212.52 L205.65 213.55 L206.78 213.44 L207.92 214.77 L209.05 214.42 L210.19 213.60 L211.32 214.94 L212.45 215.55 L213.59 215.95 L214.72 216.59 L215.86 215.86 L216.99 216.92 L218.13 217.44 L219.26 216.06 L220.40 216.81 L221.53 217.63 L222.66 218.54 L223.80 217.43 L224.93 217.29 L226.07 218.89 L227.20 218.86 L228.34 218.99 L229.47 218.59 L230.61 219.42 L231.74 219.82 L232.88 218.08 L234.01 220.90 L235.14 222.08 L236.28 220.79 L237.41 221.37 L238.55 222.07 L239.68 221.70 L240.82 222.13 L241.95 221.88 L243.09 221.46 L244.22 221.77 L245.35 221.58 L246.49 224.07 L247.62 221.92 L248.76 224.02 L249.89 222.99 L251.03 223.53 L252.16 223.19 L253.30 224.49 L254.43 223.49 L255.56 225.40 L256.70 223.39 L257.83 225.20 L258.97 222.92 L260.10 225.12 L261.24 224.99 L262.37 225.17 L263.51 224.77 L264.64 225.42 L265.78 225.64 L266.91 226.02 L268.04 225.77 L269.18 225.00 L270.31 226.35 L271.45 225.98 L272.58 226.56 L273.72 226.55 L274.85 226.18 L275.99 226.24 L277.12 227.57 L278.25 226.47 L279.39 226.97 L280.52 226.85 L281.66 225.36 L282.79 227.22 L283.93 228.66 L285.06 226.53 L286.20 226.45 L287.33 228.24 L288.47 228.31 L289.60 227.46 L290.73 229.37 L291.87 228.68 L293.00 229.01 L294.14 227.94 L295.27 228.37 L296.41 228.76 L297.54 228.85 L298.68 229.69 L299.81 229.99 L300.94 228.48 L302.08 229.75 L303.21 229.44 L304.35 230.05 L305.48 230.73 L306.62 230.88 L307.75 229.60 L308.89 228.43 L310.02 230.23 L311.16 229.02 L312.29 230.56 L313.42 230.60 L314.56 230.23 L315.69 231.61 L316.83 231.04 L317.96 231.36 L319.10 230.71 L320.23 232.93 L321.37 230.45 L322.50 230.63 L323.63 231.27 L324.77 231.34 L325.90 231.86 L327.04 232.02 L328.17 231.66 L329.31 233.09 L330.44 232.77 L331.58 232.55 L332.71 230.36 L333.85 232.61 L334.98 230.68 L336.11 233.01 L337.25 234.59 L338.38 232.71 L339.52 232.55 L340.65 231.09 L341.79 233.48 L342.92 232.43 L344.06 233.61 L345.19 232.61 L346.32 232.50 L347.46 233.84 L348.59 232.26 L349.73 232.71 L350.86 233.92 L352.00 232.35 L353.13 233.93 L354.27 232.84 L355.40 233.82 L356.54 234.15 L357.67 232.40 L358.80 231.90 L359.94 232.69 L361.07 233.03 L362.21 233.97 L363.34 231.76 L364.48 233.60 L365.61 233.34 L366.75 234.42 L367.88 234.94 L369.01 233.51 L370.15 233.34 L371.28 234.89 L372.42 234.49 L373.55 234.09 L374.69 234.04 L375.82 235.24 L376.96 235.64 L378.09 234.80 L379.23 234.04 L380.36 233.73 L381.49 234.76 L382.63 232.80 L383.76 235.63 L384.90 234.94 L386.03 234.52 L387.17 234.43 L388.30 234.35 L389.44 235.38 L390.57 235.46 L391.70 236.17 L392.84 234.07 L393.97 235.51 L395.11 234.82 L396.24 233.95 L397.38 234.85 L398.51 236.30 L399.65 235.19 L400.78 234.80 L401.92 233.44 L403.05 234.75 L404.18 235.87 L405.32 232.65 L406.45 234.22 L407.59 234.88 L408.72 236.19 L409.86 236.61 L410.99 235.48 L412.13 235.22 L413.26 236.00 L414.39 235.06 L415.53 235.71 L416.66 237.18 L417.80 233.95 L418.93 237.47 L420.07 234.66 L421.20 236.28 L422.34 237.99 L423.47 236.74 L424.61 234.69 L425.74 237.39 L426.87 236.48 L428.01 234.62 L429.14 237.07 L430.28 235.39 L431.41 237.56 L432.55 236.20 L433.68 236.44 L434.82 236.24 L435.95 236.98 L437.09 234.98 L438.22 237.98 L439.35 235.02 L440.49 236.43 L441.62 237.24 L442.76 235.91 L443.89 235.77 L445.03 236.46 L446.16 236.90 L447.30 234.55 L448.43 236.36 L449.56 237.61 L450.70 234.66 L451.83 235.77 L452.97 236.59 L454.10 237.79 L455.24 235.70 L456.37 237.22 L457.51 237.13 L458.64 237.25 L459.78 238.28 L460.91 234.67 L462.04 236.50 L463.18 235.92 L464.31 237.61 L465.45 235.52 L466.58 239.67 L467.72 237.64 L468.85 239.74 L469.99 236.85 L471.12 236.43 L472.25 236.66 L473.39 238.71 L474.52 237.30 L475.66 237.53 L476.79 236.87 L477.93 236.09 L479.06 238.04 L480.20 236.53 L481.33 236.65 L482.47 236.52 L483.60 238.32 L484.73 238.26 L485.87 237.99 L487.00 238.74 L488.14 238.42 L489.27 238.53 L490.41 237.27 L491.54 238.30 L492.68 236.43 L493.81 238.24 L494.94 235.74 L496.08 237.70 L497.21 237.81 L498.35 239.14 L499.48 236.84 L500.62 236.52 L501.75 238.13 L502.89 237.02 L504.02 235.96 L505.16 238.80 L506.29 236.99 L507.42 238.13 L508.56 238.03 L509.69 239.14 L510.83 238.04 L511.96 237.99 L513.10 237.10 L514.23 238.59 L515.37 238.41 L516.50 235.60" stroke="#a26acb"/>
</g>
<path d="M62.70 250.75v3M119.43 250.75v3M175.55 250.75v3M232.88 250.75v3M289.60 250.75v3M346.32 250.75v3M403.05 250.75v3M459.98 250.75v3M516.50 250.75v3M39.90 209.20h-3M39.90 155.85h-3M39.90 102.50h-3M39.90 49.15h-3" stroke="#333" stroke-width="0.9" fill="none"/>
<rect x="39.90" y="8.00" width="498.30" height="242.75" fill="none" stroke="#4a4a4a" stroke-width="1.4"/>
<g stroke="#000" stroke-width="0.18">
<text x="62.70" y="267.0" text-anchor="middle">0</text>
<text x="119.43" y="267.0" text-anchor="middle">50</text>
<text x="176.15" y="267.0" text-anchor="middle">100</text>
<text x="232.88" y="267.0" text-anchor="middle">150</text>
<text x="289.60" y="267.0" text-anchor="middle">200</text>
<text x="346.32" y="267.0" text-anchor="middle">250</text>
<text x="403.05" y="267.0" text-anchor="middle">300</text>
<text x="459.78" y="267.0" text-anchor="middle">350</text>
<text x="516.50" y="267.0" text-anchor="middle">400</text>
<text x="33.7" y="214.30" text-anchor="end">2</text>
<text x="33.7" y="160.95" text-anchor="end">3</text>
<text x="33.7" y="107.60" text-anchor="end">4</text>
<text x="33.7" y="54.25" text-anchor="end">5</text>
<text x="289.05" y="284.4" text-anchor="middle">Epochs</text>
<text transform="translate(18.4 131.88) rotate(-90)" text-anchor="middle">Loss</text>
</g>
<rect x="460.00" y="16.40" width="73.60" height="104.00" rx="3" fill="#000" opacity="0.35"/>
<rect x="458.20" y="14.60" width="73.60" height="104.00" rx="3" fill="#fff" stroke="#d0d0d0" stroke-width="0.8"/>
<path d="M463.6 25.70H491.5" stroke="#187ec2" stroke-width="1.8" fill="none"/>
<text x="502.1" y="30.50" stroke="#000" stroke-width="0.18">5k</text>
<path d="M463.6 45.80H491.5" stroke="#ff861c" stroke-width="1.8" fill="none"/>
<text x="502.1" y="50.40" stroke="#000" stroke-width="0.18">10k</text>
<path d="M463.6 65.90H491.5" stroke="#12a034" stroke-width="1.8" fill="none"/>
<text x="502.1" y="70.30" stroke="#000" stroke-width="0.18">20k</text>
<path d="M463.6 86.00H491.5" stroke="#ff3a3a" stroke-width="1.8" fill="none"/>
<text x="502.1" y="90.20" stroke="#000" stroke-width="0.18">30k</text>
<path d="M463.6 106.10H491.5" stroke="#a26acb" stroke-width="1.8" fill="none"/>
<text x="502.1" y="110.10" stroke="#000" stroke-width="0.18">40k</text>
</svg>
</body></html>
